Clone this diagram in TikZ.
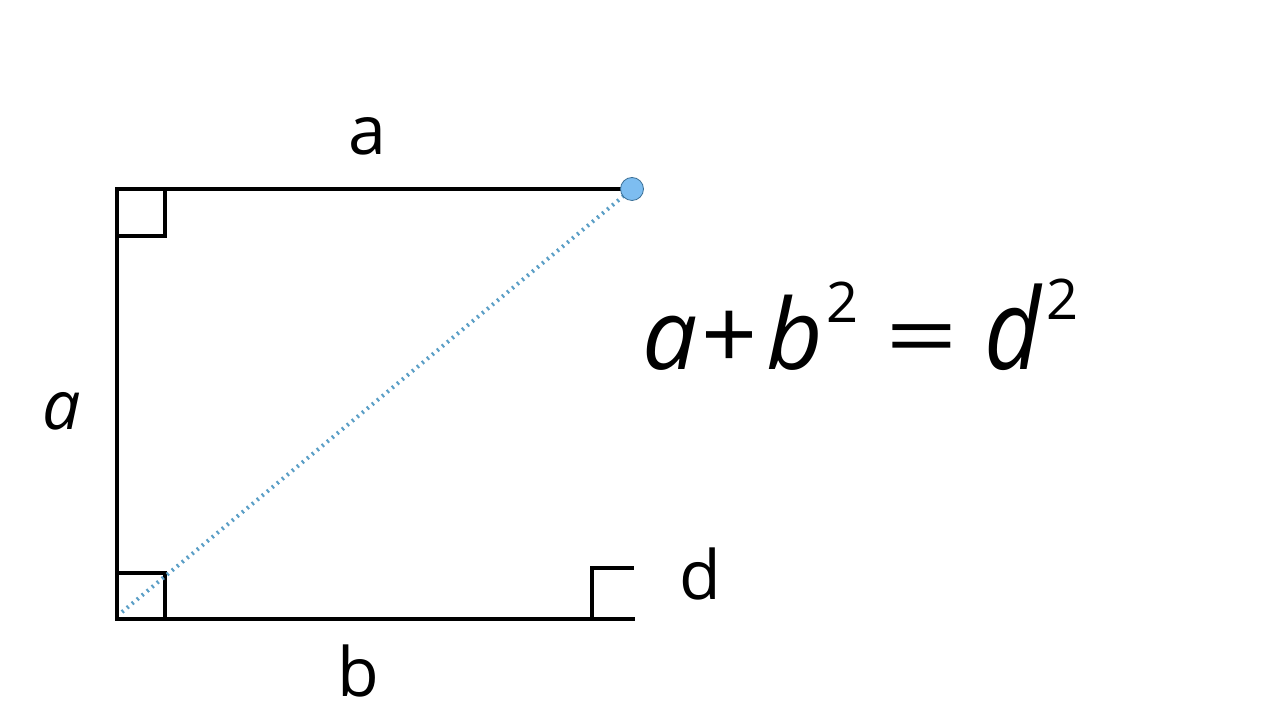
\documentclass[tikz,border=0pt]{standalone}
\usepackage{fontspec}
\setmainfont{Open Sans}
\definecolor{dotblue}{HTML}{5A9EC6}
\definecolor{ptfill}{HTML}{7DBDF0}
\definecolor{ptline}{HTML}{3A6F96}
\begin{document}
\begin{tikzpicture}[x=1pt,y=1pt,
  edge/.style={line width=3.6pt,line cap=rect},
  lbl/.style={inner sep=0pt,font=\fontsize{68}{80}\selectfont},
  big/.style={inner sep=0pt,anchor=base,font=\fontsize{98}{110}\selectfont},
  sup/.style={inner sep=0pt,anchor=base,font=\fontsize{56}{60}\selectfont},
  diag/.style={dotblue,line width=4pt,dash pattern=on 2pt off 4.5pt}]
\useasboundingbox (0,0) rectangle (1280,720);
\fill[white] (0,0) rectangle (1280,720);
\coordinate (TL) at (117,531);
\coordinate (BL) at (117,101);
\coordinate (TR) at (632,531);
\coordinate (BR) at (633,101);
\coordinate (DS) at (122,108);
% sides
\draw[edge] (TR) -- (TL) -- (BL) -- (BR);
% right angle marks
\coordinate (m1) at (165,531);
\coordinate (m2) at (165,484);
\coordinate (m3) at (117,484);
\draw[line width=3.6pt] (m1) -- (m2) -- (m3);
\coordinate (n1) at (117,147);
\coordinate (n2) at (165,147);
\coordinate (n3) at (165,101);
\draw[line width=3.6pt] (n1) -- (n2) -- (n3);
\coordinate (r1) at (592,101);
\coordinate (r2) at (592,152);
\coordinate (r3) at (634,152);
\draw[line width=3.2pt] (r1) -- (r2) -- (r3);
% diagonal
\draw[diag] (DS) -- (TR);
\node[circle,draw=ptline,fill=ptfill,line width=0.8pt,minimum size=23pt,inner sep=0pt] (P) at (TR) {};
% labels
\node[lbl,anchor=base] (la) at (367,565) {a};
\node[lbl,anchor=base] (lb) at (358,23) {b};
\node[lbl,anchor=base] (ld) at (700,120) {d};
\node[lbl,anchor=base] (lal) at (62,290) {\itshape a};
% formula
\node[big] (fa) at (670,350) {\itshape a};
\node[big] (fp) at (730,350) {+};
\node[big] (fb) at (795,350) {\itshape b};
\node[sup] (f2a) at (843,397) {2};
\node[big,xscale=1.3,yscale=0.9] (feq) at (922,352) {=};
\node[big,yscale=1.15] (fd) at (1013,350) {\itshape d};
\node[sup] (f2b) at (1062,400) {2};
\end{tikzpicture}
\end{document}
